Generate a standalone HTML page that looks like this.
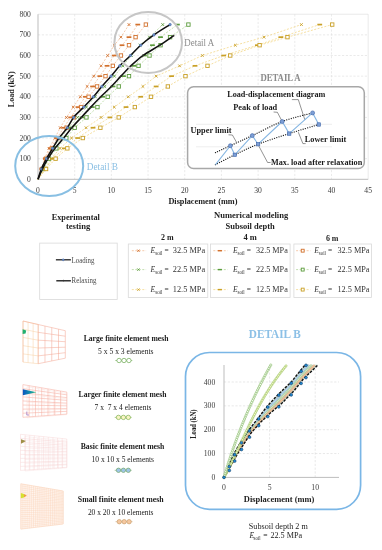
<!DOCTYPE html>
<html><head><meta charset="utf-8"><title>Load-displacement</title>
<style>html,body{margin:0;padding:0;background:#fff;width:382px;height:550px;overflow:hidden}svg{display:block}</style>
</head><body>
<svg width="382" height="550" viewBox="0 0 382 550">
<rect width="382" height="550" fill="#fff"/>
<g id="grid" stroke="#dcdcdc" stroke-width="0.6">
<line x1="38" y1="158.67" x2="368.16" y2="158.67" stroke-dasharray="2.2,1.6"/>
<line x1="38" y1="138.04" x2="368.16" y2="138.04" stroke-dasharray="2.2,1.6"/>
<line x1="38" y1="117.41" x2="368.16" y2="117.41" stroke-dasharray="2.2,1.6"/>
<line x1="38" y1="96.78" x2="368.16" y2="96.78" stroke-dasharray="2.2,1.6"/>
<line x1="38" y1="76.15" x2="368.16" y2="76.15" stroke-dasharray="2.2,1.6"/>
<line x1="38" y1="55.52" x2="368.16" y2="55.52" stroke-dasharray="2.2,1.6"/>
<line x1="38" y1="34.89" x2="368.16" y2="34.89" stroke-dasharray="2.2,1.6"/>
<line x1="38" y1="14.26" x2="368.16" y2="14.26"/>
<line x1="74.69" y1="14.26" x2="74.69" y2="179.30" stroke-dasharray="2.2,1.6"/>
<line x1="111.37" y1="14.26" x2="111.37" y2="179.30" stroke-dasharray="2.2,1.6"/>
<line x1="148.06" y1="14.26" x2="148.06" y2="179.30" stroke-dasharray="2.2,1.6"/>
<line x1="184.74" y1="14.26" x2="184.74" y2="179.30" stroke-dasharray="2.2,1.6"/>
<line x1="221.42" y1="14.26" x2="221.42" y2="179.30" stroke-dasharray="2.2,1.6"/>
<line x1="258.11" y1="14.26" x2="258.11" y2="179.30" stroke-dasharray="2.2,1.6"/>
<line x1="294.80" y1="14.26" x2="294.80" y2="179.30" stroke-dasharray="2.2,1.6"/>
<line x1="331.48" y1="14.26" x2="331.48" y2="179.30" stroke-dasharray="2.2,1.6"/>
<line x1="368.16" y1="14.26" x2="368.16" y2="179.30"/>
</g>
<line x1="38" y1="14.26" x2="38" y2="179.30" stroke="#bdbdbd" stroke-width="1"/>
<line x1="38" y1="179.30" x2="368.16" y2="179.30" stroke="#bdbdbd" stroke-width="1"/>
<g font-family="Liberation Serif, serif" font-size="7.4" fill="#3a3a3a">
<text x="27.10" y="181.90" textLength="3.8" lengthAdjust="spacingAndGlyphs">0</text>
<text x="19.50" y="161.27" textLength="11.4" lengthAdjust="spacingAndGlyphs">100</text>
<text x="19.50" y="140.64" textLength="11.4" lengthAdjust="spacingAndGlyphs">200</text>
<text x="19.50" y="120.01" textLength="11.4" lengthAdjust="spacingAndGlyphs">300</text>
<text x="19.50" y="99.38" textLength="11.4" lengthAdjust="spacingAndGlyphs">400</text>
<text x="19.50" y="78.75" textLength="11.4" lengthAdjust="spacingAndGlyphs">500</text>
<text x="19.50" y="58.12" textLength="11.4" lengthAdjust="spacingAndGlyphs">600</text>
<text x="19.50" y="37.49" textLength="11.4" lengthAdjust="spacingAndGlyphs">700</text>
<text x="19.50" y="16.86" textLength="11.4" lengthAdjust="spacingAndGlyphs">800</text>
<text x="36.10" y="192.8" textLength="3.8" lengthAdjust="spacingAndGlyphs">0</text>
<text x="72.78" y="192.8" textLength="3.8" lengthAdjust="spacingAndGlyphs">5</text>
<text x="107.57" y="192.8" textLength="7.6" lengthAdjust="spacingAndGlyphs">10</text>
<text x="144.25" y="192.8" textLength="7.6" lengthAdjust="spacingAndGlyphs">15</text>
<text x="180.94" y="192.8" textLength="7.6" lengthAdjust="spacingAndGlyphs">20</text>
<text x="217.62" y="192.8" textLength="7.6" lengthAdjust="spacingAndGlyphs">25</text>
<text x="254.31" y="192.8" textLength="7.6" lengthAdjust="spacingAndGlyphs">30</text>
<text x="291.00" y="192.8" textLength="7.6" lengthAdjust="spacingAndGlyphs">35</text>
<text x="327.68" y="192.8" textLength="7.6" lengthAdjust="spacingAndGlyphs">40</text>
<text x="364.36" y="192.8" textLength="7.6" lengthAdjust="spacingAndGlyphs">45</text>
</g>
<text font-family="Liberation Serif, serif" font-size="7.3" font-weight="bold" fill="#222" transform="translate(14.3,89.3) rotate(-90)" x="-18" textLength="36" lengthAdjust="spacingAndGlyphs">Load (kN)</text>
<text font-family="Liberation Serif, serif" font-size="8" font-weight="bold" fill="#222" x="168.4" y="203.6" textLength="69" lengthAdjust="spacingAndGlyphs">Displacement (mm)</text>
<polyline points="38.00,179.30 41.30,168.99 44.60,158.67 49.01,148.36 54.88,138.04 60.23,127.73 66.47,117.41 73.22,107.10 80.33,96.78 87.16,86.47 93.76,76.15 101.10,65.84 107.70,55.52 114.30,45.21 120.91,37.16 128.98,24.58" fill="none" stroke="#f0b48a" stroke-width="0.7" stroke-dasharray="2,1.5"/>
<polyline points="38.00,179.30 41.67,168.99 45.34,158.67 50.47,148.36 57.08,138.04 63.68,127.73 70.65,117.41 77.99,107.10 85.32,96.78 92.57,86.47 99.81,76.15 107.06,65.84 114.30,55.52 122.01,45.21 128.98,37.16 137.78,24.58" fill="none" stroke="#f0b48a" stroke-width="0.7" stroke-dasharray="2,1.5"/>
<polyline points="38.00,179.30 42.04,168.99 46.07,158.67 51.94,148.36 58.54,138.04 66.61,127.73 73.95,117.41 81.29,107.10 88.63,96.78 97.06,86.47 105.50,76.15 112.84,65.84 120.91,55.52 128.98,45.21 135.58,37.16 145.85,24.58" fill="none" stroke="#f0b48a" stroke-width="0.7" stroke-dasharray="2,1.5"/>
<polyline points="38.00,179.30 42.40,168.99 46.80,158.67 52.67,148.36 60.74,138.04 68.82,127.73 77.62,117.41 86.42,107.10 95.23,96.78 104.77,86.47 114.30,76.15 122.86,65.84 131.42,55.52 139.98,45.21 149.52,37.16 162.73,24.58" fill="none" stroke="#a9d18e" stroke-width="0.7" stroke-dasharray="2,1.5"/>
<polyline points="38.00,179.30 43.14,168.99 48.27,158.67 54.14,148.36 62.95,138.04 71.75,127.73 82.02,117.41 92.29,107.10 102.57,96.78 113.02,86.47 123.48,76.15 133.93,65.84 144.39,55.52 152.46,45.21 160.53,37.16 177.40,24.58" fill="none" stroke="#a9d18e" stroke-width="0.7" stroke-dasharray="2,1.5"/>
<polyline points="38.00,179.30 43.50,168.99 49.01,158.67 56.34,148.36 66.32,138.04 74.69,127.73 86.42,117.41 97.43,107.10 107.70,96.78 118.71,86.47 128.98,76.15 138.52,65.84 149.52,55.52 160.53,45.21 170.07,37.16 188.41,24.58" fill="none" stroke="#a9d18e" stroke-width="0.7" stroke-dasharray="2,1.5"/>
<polyline points="38.00,179.30 44.60,168.99 51.21,158.67 60.01,148.36 71.53,138.04 86.06,127.73 101.10,117.41 114.30,107.10 128.25,96.78 142.92,86.47 156.13,76.15 179.60,65.84 202.35,55.52 235.37,45.21 263.98,37.16 301.40,24.58" fill="none" stroke="#f2d27a" stroke-width="0.7" stroke-dasharray="2,1.5"/>
<polyline points="38.00,179.30 45.34,168.99 52.67,158.67 64.41,148.36 77.62,138.04 93.03,127.73 109.90,117.41 126.04,107.10 140.72,96.78 156.13,86.47 171.53,76.15 195.01,65.84 223.63,55.52 257.38,45.21 280.85,37.16 319.74,24.58" fill="none" stroke="#f2d27a" stroke-width="0.7" stroke-dasharray="2,1.5"/>
<polyline points="38.00,179.30 46.07,168.99 55.61,158.67 67.35,148.36 82.76,138.04 100.36,127.73 118.71,117.41 134.85,107.10 150.99,96.78 167.86,86.47 185.47,76.15 207.48,65.84 230.23,55.52 259.58,45.21 287.46,37.16 332.21,24.58" fill="none" stroke="#f2d27a" stroke-width="0.7" stroke-dasharray="2,1.5"/>
<path d="M39.95,167.64L42.65,170.34M39.95,170.34L42.65,167.64" stroke="#d2712d" stroke-width="0.9" fill="none"/>
<path d="M43.25,157.32L45.95,160.02M43.25,160.02L45.95,157.32" stroke="#d2712d" stroke-width="0.9" fill="none"/>
<path d="M47.66,147.01L50.36,149.71M47.66,149.71L50.36,147.01" stroke="#d2712d" stroke-width="0.9" fill="none"/>
<path d="M53.53,136.69L56.23,139.39M53.53,139.39L56.23,136.69" stroke="#d2712d" stroke-width="0.9" fill="none"/>
<path d="M58.88,126.38L61.58,129.08M58.88,129.08L61.58,126.38" stroke="#d2712d" stroke-width="0.9" fill="none"/>
<path d="M65.12,116.06L67.82,118.76M65.12,118.76L67.82,116.06" stroke="#d2712d" stroke-width="0.9" fill="none"/>
<path d="M71.87,105.75L74.57,108.45M71.87,108.45L74.57,105.75" stroke="#d2712d" stroke-width="0.9" fill="none"/>
<path d="M78.98,95.43L81.68,98.13M78.98,98.13L81.68,95.43" stroke="#d2712d" stroke-width="0.9" fill="none"/>
<path d="M85.81,85.12L88.51,87.81M85.81,87.81L88.51,85.12" stroke="#d2712d" stroke-width="0.9" fill="none"/>
<path d="M92.41,74.80L95.11,77.50M92.41,77.50L95.11,74.80" stroke="#d2712d" stroke-width="0.9" fill="none"/>
<path d="M99.75,64.49L102.45,67.19M99.75,67.19L102.45,64.49" stroke="#d2712d" stroke-width="0.9" fill="none"/>
<path d="M106.35,54.17L109.05,56.87M106.35,56.87L109.05,54.17" stroke="#d2712d" stroke-width="0.9" fill="none"/>
<path d="M112.95,43.86L115.65,46.56M112.95,46.56L115.65,43.86" stroke="#d2712d" stroke-width="0.9" fill="none"/>
<path d="M119.56,35.81L122.26,38.51M119.56,38.51L122.26,35.81" stroke="#d2712d" stroke-width="0.9" fill="none"/>
<path d="M127.63,23.23L130.33,25.93M127.63,25.93L130.33,23.23" stroke="#d2712d" stroke-width="0.9" fill="none"/>
<rect x="39.27" y="168.14" width="4.80" height="1.70" fill="#d2712d"/>
<rect x="42.94" y="157.82" width="4.80" height="1.70" fill="#d2712d"/>
<rect x="48.07" y="147.51" width="4.80" height="1.70" fill="#d2712d"/>
<rect x="54.68" y="137.19" width="4.80" height="1.70" fill="#d2712d"/>
<rect x="61.28" y="126.88" width="4.80" height="1.70" fill="#d2712d"/>
<rect x="68.25" y="116.56" width="4.80" height="1.70" fill="#d2712d"/>
<rect x="75.59" y="106.25" width="4.80" height="1.70" fill="#d2712d"/>
<rect x="82.92" y="95.93" width="4.80" height="1.70" fill="#d2712d"/>
<rect x="90.17" y="85.62" width="4.80" height="1.70" fill="#d2712d"/>
<rect x="97.41" y="75.30" width="4.80" height="1.70" fill="#d2712d"/>
<rect x="104.66" y="64.99" width="4.80" height="1.70" fill="#d2712d"/>
<rect x="111.90" y="54.67" width="4.80" height="1.70" fill="#d2712d"/>
<rect x="119.61" y="44.36" width="4.80" height="1.70" fill="#d2712d"/>
<rect x="126.58" y="36.31" width="4.80" height="1.70" fill="#d2712d"/>
<rect x="135.38" y="23.73" width="4.80" height="1.70" fill="#d2712d"/>
<rect x="40.34" y="167.29" width="3.40" height="3.40" fill="#fff" stroke="#d2712d" stroke-width="0.9"/>
<rect x="44.37" y="156.97" width="3.40" height="3.40" fill="#fff" stroke="#d2712d" stroke-width="0.9"/>
<rect x="50.24" y="146.66" width="3.40" height="3.40" fill="#fff" stroke="#d2712d" stroke-width="0.9"/>
<rect x="56.84" y="136.34" width="3.40" height="3.40" fill="#fff" stroke="#d2712d" stroke-width="0.9"/>
<rect x="64.91" y="126.03" width="3.40" height="3.40" fill="#fff" stroke="#d2712d" stroke-width="0.9"/>
<rect x="72.25" y="115.71" width="3.40" height="3.40" fill="#fff" stroke="#d2712d" stroke-width="0.9"/>
<rect x="79.59" y="105.40" width="3.40" height="3.40" fill="#fff" stroke="#d2712d" stroke-width="0.9"/>
<rect x="86.93" y="95.08" width="3.40" height="3.40" fill="#fff" stroke="#d2712d" stroke-width="0.9"/>
<rect x="95.36" y="84.77" width="3.40" height="3.40" fill="#fff" stroke="#d2712d" stroke-width="0.9"/>
<rect x="103.80" y="74.45" width="3.40" height="3.40" fill="#fff" stroke="#d2712d" stroke-width="0.9"/>
<rect x="111.14" y="64.14" width="3.40" height="3.40" fill="#fff" stroke="#d2712d" stroke-width="0.9"/>
<rect x="119.21" y="53.82" width="3.40" height="3.40" fill="#fff" stroke="#d2712d" stroke-width="0.9"/>
<rect x="127.28" y="43.51" width="3.40" height="3.40" fill="#fff" stroke="#d2712d" stroke-width="0.9"/>
<rect x="133.88" y="35.46" width="3.40" height="3.40" fill="#fff" stroke="#d2712d" stroke-width="0.9"/>
<rect x="144.15" y="22.88" width="3.40" height="3.40" fill="#fff" stroke="#d2712d" stroke-width="0.9"/>
<path d="M41.05,167.64L43.75,170.34M41.05,170.34L43.75,167.64" stroke="#5b9b3c" stroke-width="0.9" fill="none"/>
<path d="M45.45,157.32L48.15,160.02M45.45,160.02L48.15,157.32" stroke="#5b9b3c" stroke-width="0.9" fill="none"/>
<path d="M51.32,147.01L54.02,149.71M51.32,149.71L54.02,147.01" stroke="#5b9b3c" stroke-width="0.9" fill="none"/>
<path d="M59.39,136.69L62.09,139.39M59.39,139.39L62.09,136.69" stroke="#5b9b3c" stroke-width="0.9" fill="none"/>
<path d="M67.47,126.38L70.17,129.08M67.47,129.08L70.17,126.38" stroke="#5b9b3c" stroke-width="0.9" fill="none"/>
<path d="M76.27,116.06L78.97,118.76M76.27,118.76L78.97,116.06" stroke="#5b9b3c" stroke-width="0.9" fill="none"/>
<path d="M85.07,105.75L87.77,108.45M85.07,108.45L87.77,105.75" stroke="#5b9b3c" stroke-width="0.9" fill="none"/>
<path d="M93.88,95.43L96.58,98.13M93.88,98.13L96.58,95.43" stroke="#5b9b3c" stroke-width="0.9" fill="none"/>
<path d="M103.42,85.12L106.12,87.81M103.42,87.81L106.12,85.12" stroke="#5b9b3c" stroke-width="0.9" fill="none"/>
<path d="M112.95,74.80L115.65,77.50M112.95,77.50L115.65,74.80" stroke="#5b9b3c" stroke-width="0.9" fill="none"/>
<path d="M121.51,64.49L124.21,67.19M121.51,67.19L124.21,64.49" stroke="#5b9b3c" stroke-width="0.9" fill="none"/>
<path d="M130.07,54.17L132.77,56.87M130.07,56.87L132.77,54.17" stroke="#5b9b3c" stroke-width="0.9" fill="none"/>
<path d="M138.63,43.86L141.33,46.56M138.63,46.56L141.33,43.86" stroke="#5b9b3c" stroke-width="0.9" fill="none"/>
<path d="M148.17,35.81L150.87,38.51M148.17,38.51L150.87,35.81" stroke="#5b9b3c" stroke-width="0.9" fill="none"/>
<path d="M161.38,23.23L164.08,25.93M161.38,25.93L164.08,23.23" stroke="#5b9b3c" stroke-width="0.9" fill="none"/>
<rect x="40.74" y="168.14" width="4.80" height="1.70" fill="#5b9b3c"/>
<rect x="45.87" y="157.82" width="4.80" height="1.70" fill="#5b9b3c"/>
<rect x="51.74" y="147.51" width="4.80" height="1.70" fill="#5b9b3c"/>
<rect x="60.55" y="137.19" width="4.80" height="1.70" fill="#5b9b3c"/>
<rect x="69.35" y="126.88" width="4.80" height="1.70" fill="#5b9b3c"/>
<rect x="79.62" y="116.56" width="4.80" height="1.70" fill="#5b9b3c"/>
<rect x="89.89" y="106.25" width="4.80" height="1.70" fill="#5b9b3c"/>
<rect x="100.17" y="95.93" width="4.80" height="1.70" fill="#5b9b3c"/>
<rect x="110.62" y="85.62" width="4.80" height="1.70" fill="#5b9b3c"/>
<rect x="121.08" y="75.30" width="4.80" height="1.70" fill="#5b9b3c"/>
<rect x="131.53" y="64.99" width="4.80" height="1.70" fill="#5b9b3c"/>
<rect x="141.99" y="54.67" width="4.80" height="1.70" fill="#5b9b3c"/>
<rect x="150.06" y="44.36" width="4.80" height="1.70" fill="#5b9b3c"/>
<rect x="158.13" y="36.31" width="4.80" height="1.70" fill="#5b9b3c"/>
<rect x="175.00" y="23.73" width="4.80" height="1.70" fill="#5b9b3c"/>
<rect x="41.80" y="167.29" width="3.40" height="3.40" fill="#fff" stroke="#5b9b3c" stroke-width="0.9"/>
<rect x="47.31" y="156.97" width="3.40" height="3.40" fill="#fff" stroke="#5b9b3c" stroke-width="0.9"/>
<rect x="54.64" y="146.66" width="3.40" height="3.40" fill="#fff" stroke="#5b9b3c" stroke-width="0.9"/>
<rect x="64.62" y="136.34" width="3.40" height="3.40" fill="#fff" stroke="#5b9b3c" stroke-width="0.9"/>
<rect x="72.98" y="126.03" width="3.40" height="3.40" fill="#fff" stroke="#5b9b3c" stroke-width="0.9"/>
<rect x="84.72" y="115.71" width="3.40" height="3.40" fill="#fff" stroke="#5b9b3c" stroke-width="0.9"/>
<rect x="95.73" y="105.40" width="3.40" height="3.40" fill="#fff" stroke="#5b9b3c" stroke-width="0.9"/>
<rect x="106.00" y="95.08" width="3.40" height="3.40" fill="#fff" stroke="#5b9b3c" stroke-width="0.9"/>
<rect x="117.01" y="84.77" width="3.40" height="3.40" fill="#fff" stroke="#5b9b3c" stroke-width="0.9"/>
<rect x="127.28" y="74.45" width="3.40" height="3.40" fill="#fff" stroke="#5b9b3c" stroke-width="0.9"/>
<rect x="136.82" y="64.14" width="3.40" height="3.40" fill="#fff" stroke="#5b9b3c" stroke-width="0.9"/>
<rect x="147.82" y="53.82" width="3.40" height="3.40" fill="#fff" stroke="#5b9b3c" stroke-width="0.9"/>
<rect x="158.83" y="43.51" width="3.40" height="3.40" fill="#fff" stroke="#5b9b3c" stroke-width="0.9"/>
<rect x="168.37" y="35.46" width="3.40" height="3.40" fill="#fff" stroke="#5b9b3c" stroke-width="0.9"/>
<rect x="186.71" y="22.88" width="3.40" height="3.40" fill="#fff" stroke="#5b9b3c" stroke-width="0.9"/>
<path d="M43.25,167.64L45.95,170.34M43.25,170.34L45.95,167.64" stroke="#c9a027" stroke-width="0.9" fill="none"/>
<path d="M49.86,157.32L52.56,160.02M49.86,160.02L52.56,157.32" stroke="#c9a027" stroke-width="0.9" fill="none"/>
<path d="M58.66,147.01L61.36,149.71M58.66,149.71L61.36,147.01" stroke="#c9a027" stroke-width="0.9" fill="none"/>
<path d="M70.18,136.69L72.88,139.39M70.18,139.39L72.88,136.69" stroke="#c9a027" stroke-width="0.9" fill="none"/>
<path d="M84.71,126.38L87.41,129.08M84.71,129.08L87.41,126.38" stroke="#c9a027" stroke-width="0.9" fill="none"/>
<path d="M99.75,116.06L102.45,118.76M99.75,118.76L102.45,116.06" stroke="#c9a027" stroke-width="0.9" fill="none"/>
<path d="M112.95,105.75L115.65,108.45M112.95,108.45L115.65,105.75" stroke="#c9a027" stroke-width="0.9" fill="none"/>
<path d="M126.90,95.43L129.60,98.13M126.90,98.13L129.60,95.43" stroke="#c9a027" stroke-width="0.9" fill="none"/>
<path d="M141.57,85.12L144.27,87.81M141.57,87.81L144.27,85.12" stroke="#c9a027" stroke-width="0.9" fill="none"/>
<path d="M154.78,74.80L157.48,77.50M154.78,77.50L157.48,74.80" stroke="#c9a027" stroke-width="0.9" fill="none"/>
<path d="M178.25,64.49L180.95,67.19M178.25,67.19L180.95,64.49" stroke="#c9a027" stroke-width="0.9" fill="none"/>
<path d="M201.00,54.17L203.70,56.87M201.00,56.87L203.70,54.17" stroke="#c9a027" stroke-width="0.9" fill="none"/>
<path d="M234.02,43.86L236.72,46.56M234.02,46.56L236.72,43.86" stroke="#c9a027" stroke-width="0.9" fill="none"/>
<path d="M262.63,35.81L265.33,38.51M262.63,38.51L265.33,35.81" stroke="#c9a027" stroke-width="0.9" fill="none"/>
<path d="M300.05,23.23L302.75,25.93M300.05,25.93L302.75,23.23" stroke="#c9a027" stroke-width="0.9" fill="none"/>
<rect x="42.94" y="168.14" width="4.80" height="1.70" fill="#c9a027"/>
<rect x="50.27" y="157.82" width="4.80" height="1.70" fill="#c9a027"/>
<rect x="62.01" y="147.51" width="4.80" height="1.70" fill="#c9a027"/>
<rect x="75.22" y="137.19" width="4.80" height="1.70" fill="#c9a027"/>
<rect x="90.63" y="126.88" width="4.80" height="1.70" fill="#c9a027"/>
<rect x="107.50" y="116.56" width="4.80" height="1.70" fill="#c9a027"/>
<rect x="123.64" y="106.25" width="4.80" height="1.70" fill="#c9a027"/>
<rect x="138.32" y="95.93" width="4.80" height="1.70" fill="#c9a027"/>
<rect x="153.73" y="85.62" width="4.80" height="1.70" fill="#c9a027"/>
<rect x="169.13" y="75.30" width="4.80" height="1.70" fill="#c9a027"/>
<rect x="192.61" y="64.99" width="4.80" height="1.70" fill="#c9a027"/>
<rect x="221.23" y="54.67" width="4.80" height="1.70" fill="#c9a027"/>
<rect x="254.98" y="44.36" width="4.80" height="1.70" fill="#c9a027"/>
<rect x="278.45" y="36.31" width="4.80" height="1.70" fill="#c9a027"/>
<rect x="317.34" y="23.73" width="4.80" height="1.70" fill="#c9a027"/>
<rect x="44.37" y="167.29" width="3.40" height="3.40" fill="#fff" stroke="#c9a027" stroke-width="0.9"/>
<rect x="53.91" y="156.97" width="3.40" height="3.40" fill="#fff" stroke="#c9a027" stroke-width="0.9"/>
<rect x="65.65" y="146.66" width="3.40" height="3.40" fill="#fff" stroke="#c9a027" stroke-width="0.9"/>
<rect x="81.06" y="136.34" width="3.40" height="3.40" fill="#fff" stroke="#c9a027" stroke-width="0.9"/>
<rect x="98.66" y="126.03" width="3.40" height="3.40" fill="#fff" stroke="#c9a027" stroke-width="0.9"/>
<rect x="117.01" y="115.71" width="3.40" height="3.40" fill="#fff" stroke="#c9a027" stroke-width="0.9"/>
<rect x="133.15" y="105.40" width="3.40" height="3.40" fill="#fff" stroke="#c9a027" stroke-width="0.9"/>
<rect x="149.29" y="95.08" width="3.40" height="3.40" fill="#fff" stroke="#c9a027" stroke-width="0.9"/>
<rect x="166.16" y="84.77" width="3.40" height="3.40" fill="#fff" stroke="#c9a027" stroke-width="0.9"/>
<rect x="183.77" y="74.45" width="3.40" height="3.40" fill="#fff" stroke="#c9a027" stroke-width="0.9"/>
<rect x="205.78" y="64.14" width="3.40" height="3.40" fill="#fff" stroke="#c9a027" stroke-width="0.9"/>
<rect x="228.53" y="53.82" width="3.40" height="3.40" fill="#fff" stroke="#c9a027" stroke-width="0.9"/>
<rect x="257.88" y="43.51" width="3.40" height="3.40" fill="#fff" stroke="#c9a027" stroke-width="0.9"/>
<rect x="285.76" y="35.46" width="3.40" height="3.40" fill="#fff" stroke="#c9a027" stroke-width="0.9"/>
<rect x="330.51" y="22.88" width="3.40" height="3.40" fill="#fff" stroke="#c9a027" stroke-width="0.9"/>
<path d="M38.00,179.30 C38.55,177.58 39.88,172.42 41.30,168.99 C42.72,165.55 44.62,162.11 46.51,158.67 C48.41,155.23 50.60,151.79 52.67,148.36 C54.75,144.92 56.54,141.48 58.98,138.04 C61.43,134.60 64.91,131.16 67.35,127.73 C69.78,124.29 70.85,120.85 73.58,117.41 C76.32,113.97 80.47,110.53 83.78,107.10 C87.10,103.66 90.46,100.22 93.47,96.78 C96.48,93.34 98.91,89.90 101.83,86.47 C104.75,83.03 108.01,79.59 111.00,76.15 C114.00,72.71 116.57,69.27 119.81,65.84 C123.05,62.40 126.96,58.96 130.45,55.52 C133.93,52.08 136.80,48.64 140.72,45.21 C144.63,41.77 149.03,38.33 153.92,34.89 C158.82,31.45 167.38,26.29 170.07,24.58" fill="none" stroke="#111" stroke-width="1.55" stroke-linejoin="round"/>
<path d="M38.00,179.30 C38.73,177.58 40.74,172.42 42.40,168.99 C44.07,165.55 45.90,162.11 47.98,158.67 C50.06,155.23 52.26,151.79 54.88,148.36 C57.49,144.92 60.87,141.48 63.68,138.04 C66.49,134.60 68.82,131.16 71.75,127.73 C74.69,124.29 78.11,120.85 81.29,117.41 C84.47,113.97 87.59,110.53 90.83,107.10 C94.07,103.66 97.31,100.22 100.73,96.78 C104.16,93.34 108.01,89.90 111.37,86.47 C114.73,83.03 117.67,79.59 120.91,76.15 C124.15,72.71 127.14,69.27 130.81,65.84 C134.48,62.40 138.09,58.96 142.92,55.52 C147.75,52.08 154.68,48.51 159.79,45.21 C164.91,41.90 171.29,37.30 173.59,35.72" fill="none" stroke="#111" stroke-width="1.55" stroke-linejoin="round"/>
<circle cx="41.30" cy="168.99" r="1.3" fill="#6d8fc9" stroke="#3d5f9f" stroke-width="0.4"/>
<circle cx="46.51" cy="158.67" r="1.3" fill="#6d8fc9" stroke="#3d5f9f" stroke-width="0.4"/>
<circle cx="52.67" cy="148.36" r="1.3" fill="#6d8fc9" stroke="#3d5f9f" stroke-width="0.4"/>
<circle cx="58.98" cy="138.04" r="1.3" fill="#6d8fc9" stroke="#3d5f9f" stroke-width="0.4"/>
<circle cx="67.35" cy="127.73" r="1.3" fill="#6d8fc9" stroke="#3d5f9f" stroke-width="0.4"/>
<circle cx="73.58" cy="117.41" r="1.3" fill="#6d8fc9" stroke="#3d5f9f" stroke-width="0.4"/>
<circle cx="83.78" cy="107.10" r="1.3" fill="#6d8fc9" stroke="#3d5f9f" stroke-width="0.4"/>
<circle cx="93.47" cy="96.78" r="1.3" fill="#6d8fc9" stroke="#3d5f9f" stroke-width="0.4"/>
<circle cx="101.83" cy="86.47" r="1.3" fill="#6d8fc9" stroke="#3d5f9f" stroke-width="0.4"/>
<circle cx="111.00" cy="76.15" r="1.3" fill="#6d8fc9" stroke="#3d5f9f" stroke-width="0.4"/>
<circle cx="119.81" cy="65.84" r="1.3" fill="#6d8fc9" stroke="#3d5f9f" stroke-width="0.4"/>
<circle cx="130.45" cy="55.52" r="1.3" fill="#6d8fc9" stroke="#3d5f9f" stroke-width="0.4"/>
<circle cx="140.72" cy="45.21" r="1.3" fill="#6d8fc9" stroke="#3d5f9f" stroke-width="0.4"/>
<circle cx="153.92" cy="34.89" r="1.3" fill="#6d8fc9" stroke="#3d5f9f" stroke-width="0.4"/>
<circle cx="170.07" cy="24.58" r="1.3" fill="#6d8fc9" stroke="#3d5f9f" stroke-width="0.4"/>
<circle cx="42.40" cy="168.99" r="0.9" fill="#333"/>
<circle cx="47.98" cy="158.67" r="0.9" fill="#333"/>
<circle cx="54.88" cy="148.36" r="0.9" fill="#333"/>
<circle cx="63.68" cy="138.04" r="0.9" fill="#333"/>
<circle cx="71.75" cy="127.73" r="0.9" fill="#333"/>
<circle cx="81.29" cy="117.41" r="0.9" fill="#333"/>
<circle cx="90.83" cy="107.10" r="0.9" fill="#333"/>
<circle cx="100.73" cy="96.78" r="0.9" fill="#333"/>
<circle cx="111.37" cy="86.47" r="0.9" fill="#333"/>
<circle cx="120.91" cy="76.15" r="0.9" fill="#333"/>
<circle cx="130.81" cy="65.84" r="0.9" fill="#333"/>
<circle cx="142.92" cy="55.52" r="0.9" fill="#333"/>
<circle cx="159.79" cy="45.21" r="0.9" fill="#333"/>
<circle cx="173.59" cy="35.72" r="0.9" fill="#333"/>
<ellipse cx="148.2" cy="42.4" rx="33.8" ry="30.5" fill="none" stroke="#c6c6c6" stroke-width="2"/>
<ellipse cx="49.2" cy="166" rx="34.0" ry="29.9" fill="none" stroke="#88bfe3" stroke-width="2"/>
<text font-family="Liberation Serif, serif" font-size="9.5" fill="#8c8c8c" x="184.3" y="46.1" textLength="29.9" lengthAdjust="spacingAndGlyphs">Detail A</text>
<text font-family="Liberation Serif, serif" font-size="9.5" fill="#8cc0e4" x="86.8" y="170.3" textLength="31.2" lengthAdjust="spacingAndGlyphs">Detail B</text>
<text font-family="Liberation Serif, serif" font-size="10" font-weight="bold" fill="#8a8a8a" x="260.4" y="81.2" textLength="40.2" lengthAdjust="spacingAndGlyphs">DETAIL A</text>
<rect x="187.6" y="86.8" width="176.7" height="81.7" rx="6" ry="6" fill="#fff" stroke="#a8a8a8" stroke-width="1.5"/>
<line x1="196" y1="124.3" x2="332" y2="124.3" stroke="#e6e6e6" stroke-width="0.7"/>
<line x1="196" y1="146.8" x2="332" y2="146.8" stroke="#e6e6e6" stroke-width="0.7"/>
<path d="M215.5,152.6 C217.98,151.45 224.27,148.53 230.4,145.7 C236.53,142.87 243.67,139.63 252.3,135.6 C260.93,131.57 272.15,125.28 282.2,121.5 C292.25,117.72 307.53,114.33 312.6,112.9" fill="none" stroke="#1a1a1a" stroke-width="1.3" stroke-linecap="round" stroke-dasharray="0.01,2.3"/>
<path d="M215.5,164.6 C218.72,162.97 227.70,158.20 234.8,154.8 C241.90,151.40 249.03,147.73 258.1,144.2 C267.17,140.67 279.08,136.88 289.2,133.6 C299.32,130.32 313.87,126.02 318.8,124.5" fill="none" stroke="#1a1a1a" stroke-width="1.3" stroke-linecap="round" stroke-dasharray="0.01,2.3"/>
<polyline points="215.5,164.6 230.4,145.7 234.8,154.8 252.3,135.6 258.1,144.2 282.2,121.5 289.2,133.6 312.6,112.9 318.8,124.5" fill="none" stroke="#86b6e2" stroke-width="1.1"/>
<circle cx="230.4" cy="145.7" r="2.0" fill="#7d9fd6" stroke="#3f64a8" stroke-width="0.6"/>
<rect x="233.10000000000002" y="153.10000000000002" width="3.4" height="3.4" fill="#7d9fd6" stroke="#3f64a8" stroke-width="0.6"/>
<circle cx="252.3" cy="135.6" r="2.0" fill="#7d9fd6" stroke="#3f64a8" stroke-width="0.6"/>
<rect x="256.40000000000003" y="142.5" width="3.4" height="3.4" fill="#7d9fd6" stroke="#3f64a8" stroke-width="0.6"/>
<circle cx="282.2" cy="121.5" r="2.0" fill="#7d9fd6" stroke="#3f64a8" stroke-width="0.6"/>
<rect x="287.5" y="131.9" width="3.4" height="3.4" fill="#7d9fd6" stroke="#3f64a8" stroke-width="0.6"/>
<circle cx="312.6" cy="112.9" r="2.0" fill="#7d9fd6" stroke="#3f64a8" stroke-width="0.6"/>
<rect x="317.1" y="122.8" width="3.4" height="3.4" fill="#7d9fd6" stroke="#3f64a8" stroke-width="0.6"/>
<g stroke="#3a3a3a" stroke-width="0.55" fill="none">
<path d="M291.9,99.6 L298.3,99.6 L304.7,119.3"/>
<path d="M273.6,112 L277.4,112.3 L281.3,119.8"/>
<path d="M228.5,134.8 L232.4,135 L236.6,142.4"/>
<path d="M305.7,143.6 L302.9,143.6 L298.3,132.2"/>
<path d="M270.6,162.5 L267.6,162.5 L258.9,146.2"/>
</g>
<g font-family="Liberation Serif, serif" font-size="8.1" font-weight="bold" fill="#1a1a1a">
<text x="227.2" y="97.3" textLength="98.2" lengthAdjust="spacingAndGlyphs">Load-displacement diagram</text>
<text x="233.2" y="110.4" textLength="44" lengthAdjust="spacingAndGlyphs">Peak of load</text>
<text x="190.5" y="133.4" textLength="41.1" lengthAdjust="spacingAndGlyphs">Upper limit</text>
<text x="304.7" y="142" textLength="41.6" lengthAdjust="spacingAndGlyphs">Lower limit</text>
<text x="271" y="164.9" textLength="91.2" lengthAdjust="spacingAndGlyphs">Max. load after relaxation</text>
</g>
<rect x="39.7" y="243.1" width="77.5" height="56.3" fill="#fff" stroke="#d9d9d9" stroke-width="0.8"/>
<line x1="55.9" y1="259.8" x2="70.9" y2="259.8" stroke="#222" stroke-width="1.3"/>
<circle cx="63.2" cy="259.8" r="1.1" fill="#6d8fc9" stroke="#3d5f9f" stroke-width="0.3"/>
<line x1="56.3" y1="280.8" x2="70.9" y2="280.8" stroke="#111" stroke-width="1.3"/>
<circle cx="63.5" cy="280.6" r="0.8" fill="#333"/>
<g font-family="Liberation Serif, serif" font-size="7.4" fill="#4a4a4a">
<text x="71.6" y="262.7" textLength="22.9" lengthAdjust="spacingAndGlyphs">Loading</text>
<text x="71.6" y="282.7" textLength="24.9" lengthAdjust="spacingAndGlyphs">Relaxing</text>
</g>
<g font-family="Liberation Serif, serif" font-size="8" font-weight="bold" fill="#1e1e1e">
<text x="51.7" y="220" textLength="48.2" lengthAdjust="spacingAndGlyphs">Experimental</text>
<text x="65.9" y="229.3" textLength="24.3" lengthAdjust="spacingAndGlyphs">testing</text>
<text x="214" y="218" textLength="74.2" lengthAdjust="spacingAndGlyphs">Numerical modeling</text>
<text x="225.5" y="229" textLength="49.3" lengthAdjust="spacingAndGlyphs">Subsoil depth</text>
<text x="161" y="240.2" textLength="12.6" lengthAdjust="spacingAndGlyphs">2 m</text>
<text x="243.4" y="240.2" textLength="13.4" lengthAdjust="spacingAndGlyphs">4 m</text>
<text x="325.9" y="241" textLength="12.6" lengthAdjust="spacingAndGlyphs">6 m</text>
</g>
<rect x="128.3" y="244" width="79.5" height="53.5" fill="#fff" stroke="#d9d9d9" stroke-width="0.8"/>
<line x1="131.8" y1="250.7" x2="146.1" y2="250.7" stroke="#f0b48a" stroke-width="0.7" stroke-dasharray="2,1.5"/>
<path d="M137.25,249.55L139.55,251.85M137.25,251.85L139.55,249.55" stroke="#d2712d" stroke-width="0.9" fill="none"/>
<text font-family="Liberation Serif, serif" font-size="7.6" fill="#333" x="150.60000000000002" y="253.39999999999998" font-style="italic">E</text>
<text font-family="Liberation Serif, serif" font-size="5.3" fill="#333" x="155.20000000000002" y="254.6" textLength="7.2" lengthAdjust="spacingAndGlyphs">soil</text>
<text font-family="Liberation Serif, serif" font-size="7.4" fill="#333" x="164.50000000000003" y="253.39999999999998">=</text>
<text font-family="Liberation Serif, serif" font-size="7.6" fill="#333" x="172.8" y="253.39999999999998" textLength="32.3" lengthAdjust="spacingAndGlyphs">32.5 MPa</text>
<line x1="131.8" y1="269.6" x2="146.1" y2="269.6" stroke="#a9d18e" stroke-width="0.7" stroke-dasharray="2,1.5"/>
<path d="M137.25,268.45L139.55,270.75M137.25,270.75L139.55,268.45" stroke="#5b9b3c" stroke-width="0.9" fill="none"/>
<text font-family="Liberation Serif, serif" font-size="7.6" fill="#333" x="150.60000000000002" y="272.3" font-style="italic">E</text>
<text font-family="Liberation Serif, serif" font-size="5.3" fill="#333" x="155.20000000000002" y="273.5" textLength="7.2" lengthAdjust="spacingAndGlyphs">soil</text>
<text font-family="Liberation Serif, serif" font-size="7.4" fill="#333" x="164.50000000000003" y="272.3">=</text>
<text font-family="Liberation Serif, serif" font-size="7.6" fill="#333" x="172.8" y="272.3" textLength="32.3" lengthAdjust="spacingAndGlyphs">22.5 MPa</text>
<line x1="131.8" y1="289.6" x2="146.1" y2="289.6" stroke="#f2d27a" stroke-width="0.7" stroke-dasharray="2,1.5"/>
<path d="M137.25,288.45L139.55,290.75M137.25,290.75L139.55,288.45" stroke="#c9a027" stroke-width="0.9" fill="none"/>
<text font-family="Liberation Serif, serif" font-size="7.6" fill="#333" x="150.60000000000002" y="292.3" font-style="italic">E</text>
<text font-family="Liberation Serif, serif" font-size="5.3" fill="#333" x="155.20000000000002" y="293.5" textLength="7.2" lengthAdjust="spacingAndGlyphs">soil</text>
<text font-family="Liberation Serif, serif" font-size="7.4" fill="#333" x="164.50000000000003" y="292.3">=</text>
<text font-family="Liberation Serif, serif" font-size="7.6" fill="#333" x="172.8" y="292.3" textLength="32.3" lengthAdjust="spacingAndGlyphs">12.5 MPa</text>
<rect x="210.5" y="244" width="79.6" height="53.5" fill="#fff" stroke="#d9d9d9" stroke-width="0.8"/>
<line x1="213.3" y1="250.7" x2="227.6" y2="250.7" stroke="#f0b48a" stroke-width="0.7" stroke-dasharray="2,1.5"/>
<rect x="217.86" y="249.98" width="4.08" height="1.44" fill="#d2712d"/>
<text font-family="Liberation Serif, serif" font-size="7.6" fill="#333" x="232.9" y="253.39999999999998" font-style="italic">E</text>
<text font-family="Liberation Serif, serif" font-size="5.3" fill="#333" x="237.5" y="254.6" textLength="7.2" lengthAdjust="spacingAndGlyphs">soil</text>
<text font-family="Liberation Serif, serif" font-size="7.4" fill="#333" x="246.8" y="253.39999999999998">=</text>
<text font-family="Liberation Serif, serif" font-size="7.6" fill="#333" x="256.0" y="253.39999999999998" textLength="31.8" lengthAdjust="spacingAndGlyphs">32.5 MPa</text>
<line x1="213.3" y1="269.6" x2="227.6" y2="269.6" stroke="#a9d18e" stroke-width="0.7" stroke-dasharray="2,1.5"/>
<rect x="217.86" y="268.88" width="4.08" height="1.44" fill="#5b9b3c"/>
<text font-family="Liberation Serif, serif" font-size="7.6" fill="#333" x="232.9" y="272.3" font-style="italic">E</text>
<text font-family="Liberation Serif, serif" font-size="5.3" fill="#333" x="237.5" y="273.5" textLength="7.2" lengthAdjust="spacingAndGlyphs">soil</text>
<text font-family="Liberation Serif, serif" font-size="7.4" fill="#333" x="246.8" y="272.3">=</text>
<text font-family="Liberation Serif, serif" font-size="7.6" fill="#333" x="256.0" y="272.3" textLength="31.8" lengthAdjust="spacingAndGlyphs">22.5 MPa</text>
<line x1="213.3" y1="289.6" x2="227.6" y2="289.6" stroke="#f2d27a" stroke-width="0.7" stroke-dasharray="2,1.5"/>
<rect x="217.86" y="288.88" width="4.08" height="1.44" fill="#c9a027"/>
<text font-family="Liberation Serif, serif" font-size="7.6" fill="#333" x="232.9" y="292.3" font-style="italic">E</text>
<text font-family="Liberation Serif, serif" font-size="5.3" fill="#333" x="237.5" y="293.5" textLength="7.2" lengthAdjust="spacingAndGlyphs">soil</text>
<text font-family="Liberation Serif, serif" font-size="7.4" fill="#333" x="246.8" y="292.3">=</text>
<text font-family="Liberation Serif, serif" font-size="7.6" fill="#333" x="256.0" y="292.3" textLength="31.8" lengthAdjust="spacingAndGlyphs">12.5 MPa</text>
<rect x="293.9" y="244" width="77.7" height="53.5" fill="#fff" stroke="#d9d9d9" stroke-width="0.8"/>
<line x1="296.09999999999997" y1="250.7" x2="310.4" y2="250.7" stroke="#f0b48a" stroke-width="0.7" stroke-dasharray="2,1.5"/>
<rect x="301.25" y="249.25" width="2.89" height="2.89" fill="#fff" stroke="#d2712d" stroke-width="0.9"/>
<text font-family="Liberation Serif, serif" font-size="7.6" fill="#333" x="314.2" y="253.39999999999998" font-style="italic">E</text>
<text font-family="Liberation Serif, serif" font-size="5.3" fill="#333" x="318.8" y="254.6" textLength="7.2" lengthAdjust="spacingAndGlyphs">soil</text>
<text font-family="Liberation Serif, serif" font-size="7.4" fill="#333" x="328.09999999999997" y="253.39999999999998">=</text>
<text font-family="Liberation Serif, serif" font-size="7.6" fill="#333" x="337.4" y="253.39999999999998" textLength="32.1" lengthAdjust="spacingAndGlyphs">32.5 MPa</text>
<line x1="296.09999999999997" y1="269.6" x2="310.4" y2="269.6" stroke="#a9d18e" stroke-width="0.7" stroke-dasharray="2,1.5"/>
<rect x="301.25" y="268.16" width="2.89" height="2.89" fill="#fff" stroke="#5b9b3c" stroke-width="0.9"/>
<text font-family="Liberation Serif, serif" font-size="7.6" fill="#333" x="314.2" y="272.3" font-style="italic">E</text>
<text font-family="Liberation Serif, serif" font-size="5.3" fill="#333" x="318.8" y="273.5" textLength="7.2" lengthAdjust="spacingAndGlyphs">soil</text>
<text font-family="Liberation Serif, serif" font-size="7.4" fill="#333" x="328.09999999999997" y="272.3">=</text>
<text font-family="Liberation Serif, serif" font-size="7.6" fill="#333" x="337.4" y="272.3" textLength="32.1" lengthAdjust="spacingAndGlyphs">22.5 MPa</text>
<line x1="296.09999999999997" y1="289.6" x2="310.4" y2="289.6" stroke="#f2d27a" stroke-width="0.7" stroke-dasharray="2,1.5"/>
<rect x="301.25" y="288.16" width="2.89" height="2.89" fill="#fff" stroke="#c9a027" stroke-width="0.9"/>
<text font-family="Liberation Serif, serif" font-size="7.6" fill="#333" x="314.2" y="292.3" font-style="italic">E</text>
<text font-family="Liberation Serif, serif" font-size="5.3" fill="#333" x="318.8" y="293.5" textLength="7.2" lengthAdjust="spacingAndGlyphs">soil</text>
<text font-family="Liberation Serif, serif" font-size="7.4" fill="#333" x="328.09999999999997" y="292.3">=</text>
<text font-family="Liberation Serif, serif" font-size="7.6" fill="#333" x="337.4" y="292.3" textLength="32.1" lengthAdjust="spacingAndGlyphs">12.5 MPa</text>
<g stroke="#f7cfa0" stroke-width="0.5" fill="none"><line x1="23.00" y1="321.00" x2="23.00" y2="362.10"/><line x1="28.07" y1="322.17" x2="28.07" y2="362.63"/><line x1="33.13" y1="323.33" x2="33.13" y2="363.17"/><line x1="38.20" y1="324.50" x2="38.20" y2="363.70"/><line x1="23" y1="321.00" x2="38.2" y2="324.50"/><line x1="23" y1="329.22" x2="38.2" y2="332.34"/><line x1="23" y1="337.44" x2="38.2" y2="340.18"/><line x1="23" y1="345.66" x2="38.2" y2="348.02"/><line x1="23" y1="353.88" x2="38.2" y2="355.86"/><line x1="23" y1="362.10" x2="38.2" y2="363.70"/></g>
<g stroke="#f4ab98" stroke-width="0.55" fill="none"><line x1="38.20" y1="324.50" x2="38.20" y2="363.70"/><line x1="44.98" y1="326.05" x2="44.98" y2="362.32"/><line x1="51.75" y1="327.60" x2="51.75" y2="360.95"/><line x1="58.52" y1="329.15" x2="58.52" y2="359.57"/><line x1="65.30" y1="330.70" x2="65.30" y2="358.20"/><line x1="38.2" y1="324.50" x2="65.3" y2="330.70"/><line x1="38.2" y1="332.34" x2="65.3" y2="336.20"/><line x1="38.2" y1="340.18" x2="65.3" y2="341.70"/><line x1="38.2" y1="348.02" x2="65.3" y2="347.20"/><line x1="38.2" y1="355.86" x2="65.3" y2="352.70"/><line x1="38.2" y1="363.70" x2="65.3" y2="358.20"/></g>
<line x1="23" y1="321" x2="38.2" y2="324.5" stroke="#f4ab98" stroke-width="0.55"/>
<line x1="23" y1="321" x2="23" y2="362.1" stroke="#f4b8a0" stroke-width="0.55"/>
<path d="M22.6,329.2 L26.2,330.6 L25.6,333.4 L22.6,334 Z" fill="#22b070"/>
<g stroke="#f4a496" stroke-width="0.5" fill="none"><line x1="22.90" y1="384.60" x2="22.90" y2="417.30"/><line x1="29.17" y1="385.67" x2="29.17" y2="416.84"/><line x1="35.44" y1="386.74" x2="35.44" y2="416.39"/><line x1="41.71" y1="387.81" x2="41.71" y2="415.93"/><line x1="47.99" y1="388.89" x2="47.99" y2="415.47"/><line x1="54.26" y1="389.96" x2="54.26" y2="415.01"/><line x1="60.53" y1="391.03" x2="60.53" y2="414.56"/><line x1="66.80" y1="392.10" x2="66.80" y2="414.10"/><line x1="22.9" y1="384.60" x2="66.8" y2="392.10"/><line x1="22.9" y1="388.69" x2="66.8" y2="394.85"/><line x1="22.9" y1="392.78" x2="66.8" y2="397.60"/><line x1="22.9" y1="396.86" x2="66.8" y2="400.35"/><line x1="22.9" y1="400.95" x2="66.8" y2="403.10"/><line x1="22.9" y1="405.04" x2="66.8" y2="405.85"/><line x1="22.9" y1="409.12" x2="66.8" y2="408.60"/><line x1="22.9" y1="413.21" x2="66.8" y2="411.35"/><line x1="22.9" y1="417.30" x2="66.8" y2="414.10"/></g>
<g stroke="#f9d0c8" stroke-width="0.35" fill="none"><line x1="27.00" y1="386.60" x2="27.00" y2="417.80"/><line x1="32.69" y1="387.59" x2="32.69" y2="417.34"/><line x1="38.37" y1="388.57" x2="38.37" y2="416.89"/><line x1="44.06" y1="389.56" x2="44.06" y2="416.43"/><line x1="49.74" y1="390.54" x2="49.74" y2="415.97"/><line x1="55.43" y1="391.53" x2="55.43" y2="415.51"/><line x1="61.11" y1="392.51" x2="61.11" y2="415.06"/><line x1="66.80" y1="393.50" x2="66.80" y2="414.60"/><line x1="27" y1="386.60" x2="66.8" y2="393.50"/><line x1="27" y1="394.40" x2="66.8" y2="398.77"/><line x1="27" y1="402.20" x2="66.8" y2="404.05"/><line x1="27" y1="410.00" x2="66.8" y2="409.33"/><line x1="27" y1="417.80" x2="66.8" y2="414.60"/></g>
<defs><linearGradient id="bt" x1="0" x2="1" y1="0" y2="0"><stop offset="0" stop-color="#0b55c0"/><stop offset="0.6" stop-color="#139aa8"/><stop offset="1" stop-color="#30b070"/></linearGradient></defs>
<path d="M22.8,389.2 L36.3,392.2 L22.8,395.2 Z" fill="url(#bt)"/>
<path d="M26.8,411.6 L26.8,415 L29,415" fill="none" stroke="#9a70c0" stroke-width="0.7"/>
<g stroke="#f5cccc" stroke-width="0.4" fill="none"><line x1="20.50" y1="434.30" x2="20.50" y2="470.40"/><line x1="25.13" y1="434.77" x2="25.13" y2="470.09"/><line x1="29.76" y1="435.24" x2="29.76" y2="469.78"/><line x1="34.39" y1="435.71" x2="34.39" y2="469.47"/><line x1="39.02" y1="436.18" x2="39.02" y2="469.16"/><line x1="43.65" y1="436.65" x2="43.65" y2="468.85"/><line x1="48.28" y1="437.12" x2="48.28" y2="468.54"/><line x1="52.91" y1="437.59" x2="52.91" y2="468.23"/><line x1="57.54" y1="438.06" x2="57.54" y2="467.92"/><line x1="62.17" y1="438.53" x2="62.17" y2="467.61"/><line x1="66.80" y1="439.00" x2="66.80" y2="467.30"/><line x1="20.5" y1="434.30" x2="66.8" y2="439.00"/><line x1="20.5" y1="438.31" x2="66.8" y2="442.14"/><line x1="20.5" y1="442.32" x2="66.8" y2="445.29"/><line x1="20.5" y1="446.33" x2="66.8" y2="448.43"/><line x1="20.5" y1="450.34" x2="66.8" y2="451.58"/><line x1="20.5" y1="454.36" x2="66.8" y2="454.72"/><line x1="20.5" y1="458.37" x2="66.8" y2="457.87"/><line x1="20.5" y1="462.38" x2="66.8" y2="461.01"/><line x1="20.5" y1="466.39" x2="66.8" y2="464.16"/><line x1="20.5" y1="470.40" x2="66.8" y2="467.30"/></g>
<g stroke="#f7dada" stroke-width="0.35" fill="none"><line x1="25.00" y1="436.50" x2="25.00" y2="471.00"/><line x1="29.18" y1="436.95" x2="29.18" y2="470.68"/><line x1="33.36" y1="437.40" x2="33.36" y2="470.36"/><line x1="37.54" y1="437.85" x2="37.54" y2="470.04"/><line x1="41.72" y1="438.30" x2="41.72" y2="469.72"/><line x1="45.90" y1="438.75" x2="45.90" y2="469.40"/><line x1="50.08" y1="439.20" x2="50.08" y2="469.08"/><line x1="54.26" y1="439.65" x2="54.26" y2="468.76"/><line x1="58.44" y1="440.10" x2="58.44" y2="468.44"/><line x1="62.62" y1="440.55" x2="62.62" y2="468.12"/><line x1="66.80" y1="441.00" x2="66.80" y2="467.80"/><line x1="25" y1="436.50" x2="66.8" y2="441.00"/><line x1="25" y1="440.33" x2="66.8" y2="443.98"/><line x1="25" y1="444.17" x2="66.8" y2="446.96"/><line x1="25" y1="448.00" x2="66.8" y2="449.93"/><line x1="25" y1="451.83" x2="66.8" y2="452.91"/><line x1="25" y1="455.67" x2="66.8" y2="455.89"/><line x1="25" y1="459.50" x2="66.8" y2="458.87"/><line x1="25" y1="463.33" x2="66.8" y2="461.84"/><line x1="25" y1="467.17" x2="66.8" y2="464.82"/><line x1="25" y1="471.00" x2="66.8" y2="467.80"/></g>
<path d="M21,439.3 L26,441 L21,443.7 Z" fill="#a09048"/>
<g stroke="#fbd2b8" stroke-width="0.38" fill="none"><polygon points="20.8,483.8 63.2,491 63.2,524 20.8,529.1" fill="#fff6f0"/><line x1="20.80" y1="483.80" x2="20.80" y2="529.10"/><line x1="22.92" y1="484.16" x2="22.92" y2="528.85"/><line x1="25.04" y1="484.52" x2="25.04" y2="528.59"/><line x1="27.16" y1="484.88" x2="27.16" y2="528.34"/><line x1="29.28" y1="485.24" x2="29.28" y2="528.08"/><line x1="31.40" y1="485.60" x2="31.40" y2="527.83"/><line x1="33.52" y1="485.96" x2="33.52" y2="527.57"/><line x1="35.64" y1="486.32" x2="35.64" y2="527.32"/><line x1="37.76" y1="486.68" x2="37.76" y2="527.06"/><line x1="39.88" y1="487.04" x2="39.88" y2="526.81"/><line x1="42.00" y1="487.40" x2="42.00" y2="526.55"/><line x1="44.12" y1="487.76" x2="44.12" y2="526.29"/><line x1="46.24" y1="488.12" x2="46.24" y2="526.04"/><line x1="48.36" y1="488.48" x2="48.36" y2="525.78"/><line x1="50.48" y1="488.84" x2="50.48" y2="525.53"/><line x1="52.60" y1="489.20" x2="52.60" y2="525.27"/><line x1="54.72" y1="489.56" x2="54.72" y2="525.02"/><line x1="56.84" y1="489.92" x2="56.84" y2="524.76"/><line x1="58.96" y1="490.28" x2="58.96" y2="524.51"/><line x1="61.08" y1="490.64" x2="61.08" y2="524.25"/><line x1="63.20" y1="491.00" x2="63.20" y2="524.00"/><line x1="20.8" y1="483.80" x2="63.2" y2="491.00"/><line x1="20.8" y1="485.86" x2="63.2" y2="492.50"/><line x1="20.8" y1="487.92" x2="63.2" y2="494.00"/><line x1="20.8" y1="489.98" x2="63.2" y2="495.50"/><line x1="20.8" y1="492.04" x2="63.2" y2="497.00"/><line x1="20.8" y1="494.10" x2="63.2" y2="498.50"/><line x1="20.8" y1="496.15" x2="63.2" y2="500.00"/><line x1="20.8" y1="498.21" x2="63.2" y2="501.50"/><line x1="20.8" y1="500.27" x2="63.2" y2="503.00"/><line x1="20.8" y1="502.33" x2="63.2" y2="504.50"/><line x1="20.8" y1="504.39" x2="63.2" y2="506.00"/><line x1="20.8" y1="506.45" x2="63.2" y2="507.50"/><line x1="20.8" y1="508.51" x2="63.2" y2="509.00"/><line x1="20.8" y1="510.57" x2="63.2" y2="510.50"/><line x1="20.8" y1="512.63" x2="63.2" y2="512.00"/><line x1="20.8" y1="514.69" x2="63.2" y2="513.50"/><line x1="20.8" y1="516.75" x2="63.2" y2="515.00"/><line x1="20.8" y1="518.80" x2="63.2" y2="516.50"/><line x1="20.8" y1="520.86" x2="63.2" y2="518.00"/><line x1="20.8" y1="522.92" x2="63.2" y2="519.50"/><line x1="20.8" y1="524.98" x2="63.2" y2="521.00"/><line x1="20.8" y1="527.04" x2="63.2" y2="522.50"/><line x1="20.8" y1="529.10" x2="63.2" y2="524.00"/></g>
<path d="M20.8,493 L24,494 L24,497.5 L20.8,498.2 Z" fill="#d6e030"/>
<path d="M24,494 L26.8,495.6 L24,497.5 Z" fill="#f0a040"/>
<g font-family="Liberation Serif, serif" font-size="7.9" fill="#1a1a1a">
<text x="83.7" y="340.7" font-weight="bold" textLength="84.8" lengthAdjust="spacingAndGlyphs">Large finite element mesh</text>
<text x="98.1" y="353.6" textLength="55.4" lengthAdjust="spacingAndGlyphs" xml:space="preserve">5 x 5 x 3 elements</text>
<text x="78.6" y="397.2" font-weight="bold" textLength="87.9" lengthAdjust="spacingAndGlyphs">Larger finite element mesh</text>
<text x="94.5" y="410.3" textLength="57" lengthAdjust="spacingAndGlyphs" xml:space="preserve">7 x  7 x 4 elements</text>
<text x="80.7" y="448.6" font-weight="bold" textLength="83.7" lengthAdjust="spacingAndGlyphs">Basic finite element mesh</text>
<text x="91.6" y="461.8" textLength="62.4" lengthAdjust="spacingAndGlyphs" xml:space="preserve">10 x 10 x 5 elements</text>
<text x="77.8" y="502.3" font-weight="bold" textLength="85.8" lengthAdjust="spacingAndGlyphs">Small finite element mesh</text>
<text x="87.9" y="514.9" textLength="65.6" lengthAdjust="spacingAndGlyphs" xml:space="preserve">20 x 20 x 10 elements</text>
</g>
<line x1="115.3" y1="360.5" x2="132.3" y2="360.5" stroke="#6aa84f" stroke-width="0.6"/><circle cx="119.10" cy="360.5" r="2.2" fill="#ffffff" stroke="#6aa84f" stroke-width="0.7"/><circle cx="124.00" cy="360.5" r="2.2" fill="#ffffff" stroke="#6aa84f" stroke-width="0.7"/><circle cx="128.90" cy="360.5" r="2.2" fill="#ffffff" stroke="#6aa84f" stroke-width="0.7"/>
<line x1="114.7" y1="417.4" x2="131.7" y2="417.4" stroke="#80b050" stroke-width="0.6"/><circle cx="118.50" cy="417.4" r="2.2" fill="#f8f4c4" stroke="#80b050" stroke-width="0.7"/><circle cx="123.40" cy="417.4" r="2.2" fill="#f8f4c4" stroke="#80b050" stroke-width="0.7"/><circle cx="128.30" cy="417.4" r="2.2" fill="#f8f4c4" stroke="#80b050" stroke-width="0.7"/>
<line x1="114.7" y1="470.3" x2="131.7" y2="470.3" stroke="#74a86a" stroke-width="0.6"/><circle cx="118.50" cy="470.3" r="2.2" fill="#9fc5e8" stroke="#74a86a" stroke-width="0.7"/><circle cx="123.40" cy="470.3" r="2.2" fill="#9fc5e8" stroke="#74a86a" stroke-width="0.7"/><circle cx="128.30" cy="470.3" r="2.2" fill="#9fc5e8" stroke="#74a86a" stroke-width="0.7"/>
<line x1="115.5" y1="521.7" x2="132.5" y2="521.7" stroke="#c9a070" stroke-width="0.6"/><circle cx="119.30" cy="521.7" r="2.2" fill="#f6c8a0" stroke="#c9a070" stroke-width="0.7"/><circle cx="124.20" cy="521.7" r="2.2" fill="#f6c8a0" stroke="#c9a070" stroke-width="0.7"/><circle cx="129.10" cy="521.7" r="2.2" fill="#f6c8a0" stroke="#c9a070" stroke-width="0.7"/>
<text font-family="Liberation Serif, serif" font-size="12.5" font-weight="bold" fill="#8cc0e6" x="248.8" y="338" textLength="52" lengthAdjust="spacingAndGlyphs">DETAIL B</text>
<rect x="185.5" y="352.5" width="175.1" height="156.8" rx="24" ry="24" fill="#fff" stroke="#7ab6e6" stroke-width="1.7"/>
<g stroke="#d9d9d9" stroke-width="0.6" stroke-dasharray="2.2,1.6">
<line x1="224" y1="453.55" x2="339" y2="453.55"/>
<line x1="224" y1="429.70" x2="339" y2="429.70"/>
<line x1="224" y1="405.85" x2="339" y2="405.85"/>
<line x1="224" y1="382.00" x2="339" y2="382.00"/>
<line x1="269.60" y1="365" x2="269.60" y2="477.40"/>
<line x1="315.20" y1="365" x2="315.20" y2="477.40"/>
</g>
<line x1="224" y1="365" x2="224" y2="477.40" stroke="#bdbdbd" stroke-width="1"/>
<line x1="224" y1="477.40" x2="339" y2="477.40" stroke="#bdbdbd" stroke-width="1"/>
<g font-family="Liberation Serif, serif" font-size="7.7" fill="#404040">
<text x="215.3" y="479.90" text-anchor="end">0</text>
<text x="215.3" y="456.05" text-anchor="end">100</text>
<text x="215.3" y="432.20" text-anchor="end">200</text>
<text x="215.3" y="408.35" text-anchor="end">300</text>
<text x="215.3" y="384.50" text-anchor="end">400</text>
<text x="224.00" y="490.3" text-anchor="middle">0</text>
<text x="269.60" y="490.3" text-anchor="middle">5</text>
<text x="315.20" y="490.3" text-anchor="middle">10</text>
</g>
<text font-family="Liberation Serif, serif" font-size="7.2" font-weight="bold" fill="#222" transform="translate(195.6,424.2) rotate(-90)" x="-14.65" textLength="29.3" lengthAdjust="spacingAndGlyphs">Load (kN)</text>
<text font-family="Liberation Serif, serif" font-size="8" font-weight="bold" fill="#222" x="243.8" y="501.6" textLength="70.5" lengthAdjust="spacingAndGlyphs">Displacement (mm)</text>
<polygon points="224.00,477.40 224.54,475.98 225.09,474.55 225.63,473.13 226.18,471.70 226.72,470.28 227.27,468.85 227.81,467.43 228.41,466.00 229.05,464.58 229.69,463.15 230.34,461.73 230.98,460.30 231.63,458.88 232.27,457.45 232.91,456.03 233.56,454.60 234.25,453.18 235.08,451.75 235.91,450.33 236.74,448.90 237.58,447.48 238.41,446.05 239.24,444.63 240.07,443.20 240.90,441.78 241.73,440.35 242.63,438.93 243.62,437.50 244.62,436.08 245.62,434.65 246.61,433.23 247.61,431.80 248.61,430.38 249.66,428.95 250.78,427.53 251.89,426.10 253.00,424.68 254.11,423.25 255.22,421.83 256.34,420.40 257.45,418.98 258.55,417.55 259.64,416.13 260.73,414.70 261.82,413.28 262.91,411.85 264.00,410.43 265.09,409.00 266.18,407.58 267.27,406.15 268.60,404.73 269.93,403.30 271.27,401.88 272.60,400.45 273.94,399.03 275.27,397.60 276.61,396.18 277.94,394.75 279.35,393.33 280.84,391.90 282.34,390.48 283.83,389.05 285.33,387.63 286.83,386.20 288.32,384.78 289.82,383.35 291.31,381.93 292.48,380.50 293.61,379.08 294.74,377.65 295.87,376.23 296.99,374.80 298.16,373.38 299.33,371.95 300.50,370.53 301.67,369.10 302.83,367.68 304.00,366.25 305.17,364.83 317.94,364.83 316.57,366.25 315.21,367.68 313.75,369.10 312.24,370.53 310.73,371.95 309.22,373.38 307.71,374.80 306.20,376.23 304.69,377.65 303.29,379.08 302.17,380.50 301.04,381.93 299.92,383.35 298.80,384.78 297.67,386.20 296.55,387.63 295.43,389.05 294.28,390.48 292.90,391.90 291.52,393.33 290.13,394.75 288.75,396.18 287.37,397.60 285.99,399.03 284.60,400.45 283.22,401.88 281.82,403.30 280.14,404.73 278.45,406.15 276.76,407.58 275.08,409.00 273.39,410.43 271.70,411.85 270.02,413.28 268.53,414.70 267.04,416.13 265.55,417.55 264.05,418.98 262.56,420.40 261.07,421.83 259.58,423.25 258.34,424.68 257.10,426.10 255.86,427.53 254.62,428.95 253.38,430.38 252.15,431.80 250.91,433.23 249.87,434.65 248.95,436.08 248.03,437.50 247.11,438.93 246.19,440.35 245.27,441.78 244.36,443.20 243.44,444.63 242.52,446.05 241.60,447.48 240.68,448.90 239.76,450.33 238.84,451.75 237.92,453.18 237.10,454.60 236.30,456.03 235.51,457.45 234.72,458.88 233.93,460.30 233.13,461.73 232.34,463.15 231.55,464.58 230.76,466.00 229.93,467.43 229.09,468.85 228.24,470.28 227.39,471.70 226.54,473.13 225.70,474.55 224.85,475.98 224.00,477.40" fill="#c3d6cc"/>
<g fill="#cfe3f3" stroke="#8cb8dc" stroke-width="0.5"><circle cx="224.00" cy="477.40" r="0.85"/><circle cx="224.68" cy="475.84" r="0.85"/><circle cx="225.36" cy="474.28" r="0.85"/><circle cx="226.04" cy="472.72" r="0.85"/><circle cx="226.72" cy="471.17" r="0.85"/><circle cx="227.39" cy="469.61" r="0.85"/><circle cx="228.07" cy="468.05" r="0.85"/><circle cx="228.76" cy="466.49" r="0.85"/><circle cx="229.49" cy="464.96" r="0.85"/><circle cx="230.22" cy="463.42" r="0.85"/><circle cx="230.96" cy="461.89" r="0.85"/><circle cx="231.69" cy="460.36" r="0.85"/><circle cx="232.42" cy="458.82" r="0.85"/><circle cx="233.16" cy="457.29" r="0.85"/><circle cx="233.89" cy="455.76" r="0.85"/><circle cx="234.62" cy="454.22" r="0.85"/><circle cx="235.43" cy="452.73" r="0.85"/><circle cx="236.31" cy="451.27" r="0.85"/><circle cx="237.18" cy="449.81" r="0.85"/><circle cx="238.05" cy="448.35" r="0.85"/><circle cx="238.93" cy="446.90" r="0.85"/><circle cx="239.80" cy="445.44" r="0.85"/><circle cx="240.67" cy="443.98" r="0.85"/><circle cx="241.55" cy="442.52" r="0.85"/><circle cx="242.42" cy="441.06" r="0.85"/><circle cx="243.29" cy="439.60" r="0.85"/><circle cx="244.25" cy="438.20" r="0.85"/><circle cx="245.21" cy="436.79" r="0.85"/><circle cx="246.17" cy="435.39" r="0.85"/><circle cx="247.13" cy="433.99" r="0.85"/><circle cx="248.14" cy="432.62" r="0.85"/><circle cx="249.15" cy="431.25" r="0.85"/><circle cx="250.16" cy="429.89" r="0.85"/><circle cx="251.22" cy="428.56" r="0.85"/><circle cx="252.28" cy="427.23" r="0.85"/><circle cx="253.35" cy="425.91" r="0.85"/><circle cx="254.41" cy="424.58" r="0.85"/><circle cx="255.48" cy="423.25" r="0.85"/><circle cx="256.58" cy="421.96" r="0.85"/><circle cx="257.67" cy="420.66" r="0.85"/><circle cx="258.77" cy="419.36" r="0.85"/><circle cx="259.87" cy="418.07" r="0.85"/><circle cx="260.96" cy="416.76" r="0.85"/><circle cx="262.05" cy="415.46" r="0.85"/><circle cx="263.14" cy="414.15" r="0.85"/><circle cx="264.24" cy="412.85" r="0.85"/><circle cx="265.35" cy="411.57" r="0.85"/><circle cx="266.47" cy="410.29" r="0.85"/><circle cx="267.59" cy="409.00" r="0.85"/><circle cx="268.70" cy="407.72" r="0.85"/><circle cx="269.82" cy="406.44" r="0.85"/><circle cx="270.99" cy="405.21" r="0.85"/><circle cx="272.20" cy="404.01" r="0.85"/><circle cx="273.39" cy="402.80" r="0.85"/><circle cx="274.55" cy="401.56" r="0.85"/><circle cx="275.72" cy="400.33" r="0.85"/><circle cx="276.89" cy="399.09" r="0.85"/><circle cx="278.06" cy="397.86" r="0.85"/><circle cx="279.23" cy="396.62" r="0.85"/><circle cx="280.39" cy="395.39" r="0.85"/><circle cx="281.56" cy="394.15" r="0.85"/><circle cx="282.77" cy="392.96" r="0.85"/><circle cx="283.99" cy="391.77" r="0.85"/><circle cx="285.21" cy="390.59" r="0.85"/><circle cx="286.41" cy="389.38" r="0.85"/><circle cx="287.60" cy="388.17" r="0.85"/><circle cx="288.79" cy="386.96" r="0.85"/><circle cx="289.99" cy="385.75" r="0.85"/><circle cx="291.18" cy="384.54" r="0.85"/><circle cx="292.37" cy="383.32" r="0.85"/><circle cx="293.56" cy="382.11" r="0.85"/><circle cx="294.66" cy="380.81" r="0.85"/><circle cx="295.71" cy="379.48" r="0.85"/><circle cx="296.79" cy="378.16" r="0.85"/><circle cx="297.89" cy="376.87" r="0.85"/><circle cx="299.00" cy="375.58" r="0.85"/><circle cx="300.12" cy="374.30" r="0.85"/><circle cx="301.24" cy="373.02" r="0.85"/><circle cx="302.36" cy="371.75" r="0.85"/><circle cx="303.48" cy="370.47" r="0.85"/><circle cx="304.61" cy="369.19" r="0.85"/><circle cx="305.73" cy="367.91" r="0.85"/><circle cx="306.83" cy="366.62" r="0.85"/><circle cx="307.93" cy="365.33" r="0.85"/></g>
<g fill="#e3efd8" stroke="#a3c98a" stroke-width="0.5"><circle cx="224.00" cy="477.40" r="0.85"/><circle cx="224.75" cy="475.87" r="0.85"/><circle cx="225.49" cy="474.35" r="0.85"/><circle cx="226.24" cy="472.82" r="0.85"/><circle cx="226.99" cy="471.29" r="0.85"/><circle cx="227.73" cy="469.76" r="0.85"/><circle cx="228.48" cy="468.24" r="0.85"/><circle cx="229.22" cy="466.71" r="0.85"/><circle cx="229.99" cy="465.19" r="0.85"/><circle cx="230.75" cy="463.67" r="0.85"/><circle cx="231.52" cy="462.15" r="0.85"/><circle cx="232.28" cy="460.64" r="0.85"/><circle cx="233.05" cy="459.12" r="0.85"/><circle cx="233.81" cy="457.60" r="0.85"/><circle cx="234.58" cy="456.08" r="0.85"/><circle cx="235.35" cy="454.56" r="0.85"/><circle cx="236.15" cy="453.07" r="0.85"/><circle cx="237.04" cy="451.62" r="0.85"/><circle cx="237.93" cy="450.17" r="0.85"/><circle cx="238.82" cy="448.72" r="0.85"/><circle cx="239.71" cy="447.27" r="0.85"/><circle cx="240.60" cy="445.83" r="0.85"/><circle cx="241.49" cy="444.38" r="0.85"/><circle cx="242.38" cy="442.93" r="0.85"/><circle cx="243.27" cy="441.48" r="0.85"/><circle cx="244.16" cy="440.03" r="0.85"/><circle cx="245.09" cy="438.61" r="0.85"/><circle cx="246.03" cy="437.19" r="0.85"/><circle cx="246.98" cy="435.78" r="0.85"/><circle cx="247.93" cy="434.37" r="0.85"/><circle cx="248.94" cy="433.00" r="0.85"/><circle cx="249.98" cy="431.67" r="0.85"/><circle cx="251.03" cy="430.33" r="0.85"/><circle cx="252.10" cy="429.00" r="0.85"/><circle cx="253.18" cy="427.69" r="0.85"/><circle cx="254.26" cy="426.38" r="0.85"/><circle cx="255.34" cy="425.07" r="0.85"/><circle cx="256.43" cy="423.76" r="0.85"/><circle cx="257.55" cy="422.48" r="0.85"/><circle cx="258.70" cy="421.23" r="0.85"/><circle cx="259.84" cy="419.97" r="0.85"/><circle cx="260.99" cy="418.72" r="0.85"/><circle cx="262.13" cy="417.46" r="0.85"/><circle cx="263.27" cy="416.20" r="0.85"/><circle cx="264.42" cy="414.94" r="0.85"/><circle cx="265.56" cy="413.68" r="0.85"/><circle cx="266.73" cy="412.45" r="0.85"/><circle cx="267.91" cy="411.23" r="0.85"/><circle cx="269.10" cy="410.01" r="0.85"/><circle cx="270.29" cy="408.79" r="0.85"/><circle cx="271.47" cy="407.58" r="0.85"/><circle cx="272.66" cy="406.36" r="0.85"/><circle cx="273.88" cy="405.18" r="0.85"/><circle cx="275.12" cy="404.01" r="0.85"/><circle cx="276.34" cy="402.83" r="0.85"/><circle cx="277.51" cy="401.60" r="0.85"/><circle cx="278.68" cy="400.37" r="0.85"/><circle cx="279.86" cy="399.14" r="0.85"/><circle cx="281.03" cy="397.91" r="0.85"/><circle cx="282.20" cy="396.68" r="0.85"/><circle cx="283.38" cy="395.45" r="0.85"/><circle cx="284.55" cy="394.22" r="0.85"/><circle cx="285.75" cy="393.01" r="0.85"/><circle cx="286.96" cy="391.82" r="0.85"/><circle cx="288.17" cy="390.62" r="0.85"/><circle cx="289.33" cy="389.38" r="0.85"/><circle cx="290.48" cy="388.13" r="0.85"/><circle cx="291.63" cy="386.88" r="0.85"/><circle cx="292.78" cy="385.62" r="0.85"/><circle cx="293.93" cy="384.37" r="0.85"/><circle cx="295.08" cy="383.12" r="0.85"/><circle cx="296.23" cy="381.87" r="0.85"/><circle cx="297.29" cy="380.54" r="0.85"/><circle cx="298.35" cy="379.21" r="0.85"/><circle cx="299.46" cy="377.93" r="0.85"/><circle cx="300.62" cy="376.68" r="0.85"/><circle cx="301.77" cy="375.43" r="0.85"/><circle cx="302.93" cy="374.19" r="0.85"/><circle cx="304.09" cy="372.95" r="0.85"/><circle cx="305.26" cy="371.71" r="0.85"/><circle cx="306.42" cy="370.47" r="0.85"/><circle cx="307.59" cy="369.23" r="0.85"/><circle cx="308.75" cy="367.99" r="0.85"/><circle cx="309.87" cy="366.72" r="0.85"/><circle cx="311.00" cy="365.45" r="0.85"/></g>
<g fill="#f8d2b0" stroke="#e0a070" stroke-width="0.5"><circle cx="224.00" cy="477.40" r="0.85"/><circle cx="224.81" cy="475.91" r="0.85"/><circle cx="225.62" cy="474.41" r="0.85"/><circle cx="226.43" cy="472.92" r="0.85"/><circle cx="227.24" cy="471.42" r="0.85"/><circle cx="228.05" cy="469.93" r="0.85"/><circle cx="228.86" cy="468.43" r="0.85"/><circle cx="229.67" cy="466.94" r="0.85"/><circle cx="230.47" cy="465.44" r="0.85"/><circle cx="231.26" cy="463.93" r="0.85"/><circle cx="232.06" cy="462.43" r="0.85"/><circle cx="232.86" cy="460.93" r="0.85"/><circle cx="233.65" cy="459.43" r="0.85"/><circle cx="234.45" cy="457.93" r="0.85"/><circle cx="235.24" cy="456.42" r="0.85"/><circle cx="236.04" cy="454.92" r="0.85"/><circle cx="236.85" cy="453.43" r="0.85"/><circle cx="237.75" cy="451.99" r="0.85"/><circle cx="238.66" cy="450.55" r="0.85"/><circle cx="239.56" cy="449.11" r="0.85"/><circle cx="240.47" cy="447.67" r="0.85"/><circle cx="241.38" cy="446.23" r="0.85"/><circle cx="242.28" cy="444.79" r="0.85"/><circle cx="243.19" cy="443.35" r="0.85"/><circle cx="244.09" cy="441.92" r="0.85"/><circle cx="245.00" cy="440.48" r="0.85"/><circle cx="245.91" cy="439.04" r="0.85"/><circle cx="246.85" cy="437.63" r="0.85"/><circle cx="247.78" cy="436.21" r="0.85"/><circle cx="248.72" cy="434.79" r="0.85"/><circle cx="249.69" cy="433.40" r="0.85"/><circle cx="250.78" cy="432.09" r="0.85"/><circle cx="251.86" cy="430.77" r="0.85"/><circle cx="252.95" cy="429.47" r="0.85"/><circle cx="254.04" cy="428.17" r="0.85"/><circle cx="255.14" cy="426.87" r="0.85"/><circle cx="256.24" cy="425.58" r="0.85"/><circle cx="257.34" cy="424.28" r="0.85"/><circle cx="258.46" cy="423.00" r="0.85"/><circle cx="259.65" cy="421.78" r="0.85"/><circle cx="260.84" cy="420.57" r="0.85"/><circle cx="262.03" cy="419.36" r="0.85"/><circle cx="263.22" cy="418.14" r="0.85"/><circle cx="264.41" cy="416.93" r="0.85"/><circle cx="265.60" cy="415.71" r="0.85"/><circle cx="266.78" cy="414.49" r="0.85"/><circle cx="267.97" cy="413.28" r="0.85"/><circle cx="269.22" cy="412.12" r="0.85"/><circle cx="270.46" cy="410.96" r="0.85"/><circle cx="271.71" cy="409.81" r="0.85"/><circle cx="272.96" cy="408.65" r="0.85"/><circle cx="274.20" cy="407.50" r="0.85"/><circle cx="275.45" cy="406.34" r="0.85"/><circle cx="276.71" cy="405.21" r="0.85"/><circle cx="277.98" cy="404.07" r="0.85"/><circle cx="279.23" cy="402.92" r="0.85"/><circle cx="280.41" cy="401.69" r="0.85"/><circle cx="281.59" cy="400.47" r="0.85"/><circle cx="282.77" cy="399.24" r="0.85"/><circle cx="283.94" cy="398.02" r="0.85"/><circle cx="285.12" cy="396.79" r="0.85"/><circle cx="286.30" cy="395.57" r="0.85"/><circle cx="287.48" cy="394.34" r="0.85"/><circle cx="288.67" cy="393.13" r="0.85"/><circle cx="289.87" cy="391.92" r="0.85"/><circle cx="291.06" cy="390.71" r="0.85"/><circle cx="292.19" cy="389.45" r="0.85"/><circle cx="293.30" cy="388.15" r="0.85"/><circle cx="294.40" cy="386.86" r="0.85"/><circle cx="295.50" cy="385.57" r="0.85"/><circle cx="296.61" cy="384.27" r="0.85"/><circle cx="297.71" cy="382.98" r="0.85"/><circle cx="298.81" cy="381.69" r="0.85"/><circle cx="299.87" cy="380.35" r="0.85"/><circle cx="300.92" cy="379.02" r="0.85"/><circle cx="302.08" cy="377.78" r="0.85"/><circle cx="303.28" cy="376.57" r="0.85"/><circle cx="304.47" cy="375.36" r="0.85"/><circle cx="305.67" cy="374.16" r="0.85"/><circle cx="306.88" cy="372.96" r="0.85"/><circle cx="308.08" cy="371.76" r="0.85"/><circle cx="309.28" cy="370.55" r="0.85"/><circle cx="310.48" cy="369.35" r="0.85"/><circle cx="311.68" cy="368.15" r="0.85"/><circle cx="312.84" cy="366.90" r="0.85"/><circle cx="313.99" cy="365.65" r="0.85"/></g>
<polyline points="224.00,477.40 224.54,475.98 225.09,474.55 225.63,473.13 226.18,471.70 226.72,470.28 227.27,468.85 227.81,467.43 228.41,466.00 229.05,464.58 229.69,463.15 230.34,461.73 230.98,460.30 231.63,458.88 232.27,457.45 232.91,456.03 233.56,454.60 234.25,453.18 235.08,451.75 235.91,450.33 236.74,448.90 237.58,447.48 238.41,446.05 239.24,444.63 240.07,443.20 240.90,441.78 241.73,440.35 242.63,438.93 243.62,437.50 244.62,436.08 245.62,434.65 246.61,433.23 247.61,431.80 248.61,430.38 249.66,428.95 250.78,427.53 251.89,426.10 253.00,424.68 254.11,423.25 255.22,421.83 256.34,420.40 257.45,418.98 258.55,417.55 259.64,416.13 260.73,414.70 261.82,413.28 262.91,411.85 264.00,410.43 265.09,409.00 266.18,407.58 267.27,406.15 268.60,404.73 269.93,403.30 271.27,401.88 272.60,400.45 273.94,399.03 275.27,397.60 276.61,396.18 277.94,394.75 279.35,393.33 280.84,391.90 282.34,390.48 283.83,389.05 285.33,387.63 286.83,386.20 288.32,384.78 289.82,383.35 291.31,381.93 292.48,380.50 293.61,379.08 294.74,377.65 295.87,376.23 296.99,374.80 298.16,373.38 299.33,371.95 300.50,370.53 301.67,369.10 302.83,367.68 304.00,366.25 305.17,364.83" fill="none" stroke="#111" stroke-width="1.4" stroke-dasharray="2.6,1.3"/>
<polyline points="224.00,477.40 224.85,475.98 225.70,474.55 226.54,473.13 227.39,471.70 228.24,470.28 229.09,468.85 229.93,467.43 230.76,466.00 231.55,464.58 232.34,463.15 233.13,461.73 233.93,460.30 234.72,458.88 235.51,457.45 236.30,456.03 237.10,454.60 237.92,453.18 238.84,451.75 239.76,450.33 240.68,448.90 241.60,447.48 242.52,446.05 243.44,444.63 244.36,443.20 245.27,441.78 246.19,440.35 247.11,438.93 248.03,437.50 248.95,436.08 249.87,434.65 250.91,433.23 252.15,431.80 253.38,430.38 254.62,428.95 255.86,427.53 257.10,426.10 258.34,424.68 259.58,423.25 261.07,421.83 262.56,420.40 264.05,418.98 265.55,417.55 267.04,416.13 268.53,414.70 270.02,413.28 271.70,411.85 273.39,410.43 275.08,409.00 276.76,407.58 278.45,406.15 280.14,404.73 281.82,403.30 283.22,401.88 284.60,400.45 285.99,399.03 287.37,397.60 288.75,396.18 290.13,394.75 291.52,393.33 292.90,391.90 294.28,390.48 295.43,389.05 296.55,387.63 297.67,386.20 298.80,384.78 299.92,383.35 301.04,381.93 302.17,380.50 303.29,379.08 304.69,377.65 306.20,376.23 307.71,374.80 309.22,373.38 310.73,371.95 312.24,370.53 313.75,369.10 315.21,367.68 316.57,366.25 317.94,364.83" fill="none" stroke="#111" stroke-width="1.4" stroke-dasharray="2.6,1.3"/>
<g fill="#f3f6c0" stroke="#9cc46a" stroke-width="0.6"><circle cx="224.00" cy="477.40" r="1.1"/><circle cx="224.95" cy="475.64" r="1.1"/><circle cx="225.88" cy="473.87" r="1.1"/><circle cx="226.81" cy="472.10" r="1.1"/><circle cx="227.73" cy="470.32" r="1.1"/><circle cx="228.64" cy="468.54" r="1.1"/><circle cx="229.54" cy="466.75" r="1.1"/><circle cx="230.43" cy="464.96" r="1.1"/><circle cx="231.31" cy="463.17" r="1.1"/><circle cx="232.19" cy="461.37" r="1.1"/><circle cx="233.06" cy="459.57" r="1.1"/><circle cx="233.93" cy="457.77" r="1.1"/><circle cx="234.79" cy="455.96" r="1.1"/><circle cx="235.64" cy="454.16" r="1.1"/><circle cx="236.49" cy="452.35" r="1.1"/><circle cx="237.34" cy="450.54" r="1.1"/><circle cx="238.19" cy="448.72" r="1.1"/><circle cx="239.03" cy="446.91" r="1.1"/><circle cx="239.87" cy="445.10" r="1.1"/><circle cx="240.71" cy="443.28" r="1.1"/><circle cx="241.55" cy="441.47" r="1.1"/><circle cx="242.39" cy="439.65" r="1.1"/><circle cx="243.24" cy="437.84" r="1.1"/><circle cx="244.08" cy="436.02" r="1.1"/><circle cx="244.92" cy="434.21" r="1.1"/><circle cx="245.77" cy="432.40" r="1.1"/><circle cx="246.62" cy="430.59" r="1.1"/><circle cx="247.48" cy="428.78" r="1.1"/><circle cx="248.34" cy="426.98" r="1.1"/><circle cx="249.20" cy="425.17" r="1.1"/><circle cx="250.08" cy="423.37" r="1.1"/><circle cx="250.95" cy="421.57" r="1.1"/><circle cx="251.84" cy="419.78" r="1.1"/><circle cx="252.73" cy="417.99" r="1.1"/><circle cx="253.63" cy="416.20" r="1.1"/><circle cx="254.54" cy="414.42" r="1.1"/><circle cx="255.45" cy="412.64" r="1.1"/><circle cx="256.38" cy="410.87" r="1.1"/><circle cx="257.32" cy="409.11" r="1.1"/><circle cx="258.26" cy="407.34" r="1.1"/><circle cx="259.22" cy="405.59" r="1.1"/><circle cx="260.19" cy="403.84" r="1.1"/><circle cx="261.17" cy="402.09" r="1.1"/><circle cx="262.16" cy="400.36" r="1.1"/><circle cx="263.16" cy="398.63" r="1.1"/><circle cx="264.18" cy="396.90" r="1.1"/><circle cx="265.21" cy="395.19" r="1.1"/><circle cx="266.25" cy="393.48" r="1.1"/><circle cx="267.30" cy="391.78" r="1.1"/><circle cx="268.37" cy="390.09" r="1.1"/><circle cx="269.45" cy="388.41" r="1.1"/><circle cx="270.55" cy="386.74" r="1.1"/><circle cx="271.66" cy="385.07" r="1.1"/><circle cx="272.78" cy="383.42" r="1.1"/><circle cx="273.92" cy="381.77" r="1.1"/><circle cx="275.07" cy="380.13" r="1.1"/><circle cx="276.23" cy="378.51" r="1.1"/><circle cx="277.41" cy="376.89" r="1.1"/><circle cx="278.60" cy="375.29" r="1.1"/><circle cx="279.81" cy="373.69" r="1.1"/><circle cx="281.03" cy="372.11" r="1.1"/><circle cx="282.26" cy="370.53" r="1.1"/><circle cx="283.51" cy="368.97" r="1.1"/><circle cx="284.78" cy="367.42" r="1.1"/><circle cx="286.05" cy="365.88" r="1.1"/></g>
<g fill="#f6fbf2" stroke="#86bb68" stroke-width="0.6"><circle cx="224.00" cy="477.40" r="1.1"/><circle cx="224.57" cy="475.48" r="1.1"/><circle cx="225.14" cy="473.56" r="1.1"/><circle cx="225.71" cy="471.65" r="1.1"/><circle cx="226.30" cy="469.74" r="1.1"/><circle cx="226.89" cy="467.83" r="1.1"/><circle cx="227.48" cy="465.92" r="1.1"/><circle cx="228.08" cy="464.01" r="1.1"/><circle cx="228.69" cy="462.10" r="1.1"/><circle cx="229.31" cy="460.20" r="1.1"/><circle cx="229.93" cy="458.30" r="1.1"/><circle cx="230.55" cy="456.40" r="1.1"/><circle cx="231.19" cy="454.50" r="1.1"/><circle cx="231.83" cy="452.61" r="1.1"/><circle cx="232.48" cy="450.72" r="1.1"/><circle cx="233.13" cy="448.83" r="1.1"/><circle cx="233.79" cy="446.94" r="1.1"/><circle cx="234.46" cy="445.05" r="1.1"/><circle cx="235.13" cy="443.17" r="1.1"/><circle cx="235.81" cy="441.29" r="1.1"/><circle cx="236.50" cy="439.41" r="1.1"/><circle cx="237.19" cy="437.54" r="1.1"/><circle cx="237.90" cy="435.66" r="1.1"/><circle cx="238.60" cy="433.79" r="1.1"/><circle cx="239.32" cy="431.92" r="1.1"/><circle cx="240.04" cy="430.06" r="1.1"/><circle cx="240.77" cy="428.20" r="1.1"/><circle cx="241.51" cy="426.34" r="1.1"/><circle cx="242.25" cy="424.48" r="1.1"/><circle cx="243.00" cy="422.63" r="1.1"/><circle cx="243.76" cy="420.78" r="1.1"/><circle cx="244.52" cy="418.93" r="1.1"/><circle cx="245.29" cy="417.08" r="1.1"/><circle cx="246.07" cy="415.24" r="1.1"/><circle cx="246.86" cy="413.40" r="1.1"/><circle cx="247.65" cy="411.56" r="1.1"/><circle cx="248.45" cy="409.73" r="1.1"/><circle cx="249.25" cy="407.90" r="1.1"/><circle cx="250.07" cy="406.07" r="1.1"/><circle cx="250.89" cy="404.25" r="1.1"/><circle cx="251.72" cy="402.43" r="1.1"/><circle cx="252.55" cy="400.61" r="1.1"/><circle cx="253.40" cy="398.80" r="1.1"/><circle cx="254.25" cy="396.99" r="1.1"/><circle cx="255.10" cy="395.18" r="1.1"/><circle cx="255.97" cy="393.38" r="1.1"/><circle cx="256.84" cy="391.58" r="1.1"/><circle cx="257.72" cy="389.78" r="1.1"/><circle cx="258.61" cy="387.99" r="1.1"/><circle cx="259.50" cy="386.20" r="1.1"/><circle cx="260.40" cy="384.41" r="1.1"/><circle cx="261.31" cy="382.63" r="1.1"/><circle cx="262.22" cy="380.85" r="1.1"/><circle cx="263.14" cy="379.08" r="1.1"/><circle cx="264.07" cy="377.31" r="1.1"/><circle cx="265.01" cy="375.54" r="1.1"/><circle cx="265.95" cy="373.78" r="1.1"/><circle cx="266.90" cy="372.02" r="1.1"/><circle cx="267.86" cy="370.26" r="1.1"/><circle cx="268.83" cy="368.51" r="1.1"/><circle cx="269.80" cy="366.76" r="1.1"/><circle cx="270.78" cy="365.02" r="1.1"/></g>
<circle cx="229.30" cy="466.67" r="1.4" fill="#1f8ad6" stroke="#163f66" stroke-width="0.6"/>
<circle cx="229.30" cy="470.50" r="1.4" fill="#1f8ad6" stroke="#163f66" stroke-width="0.6"/>
<circle cx="234.69" cy="454.74" r="1.4" fill="#1f8ad6" stroke="#163f66" stroke-width="0.6"/>
<circle cx="234.69" cy="461.08" r="1.4" fill="#1f8ad6" stroke="#163f66" stroke-width="0.6"/>
<circle cx="241.49" cy="442.82" r="1.4" fill="#1f8ad6" stroke="#163f66" stroke-width="0.6"/>
<circle cx="241.49" cy="449.50" r="1.4" fill="#1f8ad6" stroke="#163f66" stroke-width="0.6"/>
<circle cx="249.45" cy="430.89" r="1.4" fill="#1f8ad6" stroke="#163f66" stroke-width="0.6"/>
<circle cx="249.45" cy="437.17" r="1.4" fill="#1f8ad6" stroke="#163f66" stroke-width="0.6"/>
<circle cx="258.66" cy="418.97" r="1.4" fill="#1f8ad6" stroke="#163f66" stroke-width="0.6"/>
<circle cx="258.66" cy="425.69" r="1.4" fill="#1f8ad6" stroke="#163f66" stroke-width="0.6"/>
<circle cx="267.79" cy="407.04" r="1.4" fill="#1f8ad6" stroke="#163f66" stroke-width="0.6"/>
<circle cx="267.79" cy="416.55" r="1.4" fill="#1f8ad6" stroke="#163f66" stroke-width="0.6"/>
<circle cx="278.80" cy="395.12" r="1.4" fill="#1f8ad6" stroke="#163f66" stroke-width="0.6"/>
<circle cx="278.80" cy="406.87" r="1.4" fill="#1f8ad6" stroke="#163f66" stroke-width="0.6"/>
<circle cx="291.19" cy="383.19" r="1.4" fill="#1f8ad6" stroke="#163f66" stroke-width="0.6"/>
<circle cx="291.19" cy="394.90" r="1.4" fill="#1f8ad6" stroke="#163f66" stroke-width="0.6"/>
<circle cx="301.09" cy="371.27" r="1.4" fill="#1f8ad6" stroke="#163f66" stroke-width="0.6"/>
<circle cx="301.09" cy="383.39" r="1.4" fill="#1f8ad6" stroke="#163f66" stroke-width="0.6"/>
<circle cx="305.98" cy="365.30" r="1.4" fill="#1f8ad6" stroke="#163f66" stroke-width="0.6"/>
<circle cx="305.98" cy="377.57" r="1.4" fill="#1f8ad6" stroke="#163f66" stroke-width="0.6"/>
<circle cx="224.00" cy="477.40" r="1.4" fill="#1f8ad6" stroke="#163f66" stroke-width="0.6"/>
<g font-family="Liberation Serif, serif" font-size="7.6" fill="#222">
<text x="248.8" y="529.4" textLength="59" lengthAdjust="spacingAndGlyphs">Subsoil depth 2 m</text>
<text x="249.4" y="538.2" font-style="italic">E</text>
<text x="253.6" y="539.6" font-size="5.4" textLength="6.9" lengthAdjust="spacingAndGlyphs">soil</text>
<text x="263.2" y="538.2">=</text>
<text x="270.4" y="538.2" textLength="31.7" lengthAdjust="spacingAndGlyphs">22.5 MPa</text>
</g>
</svg>
</body></html>
